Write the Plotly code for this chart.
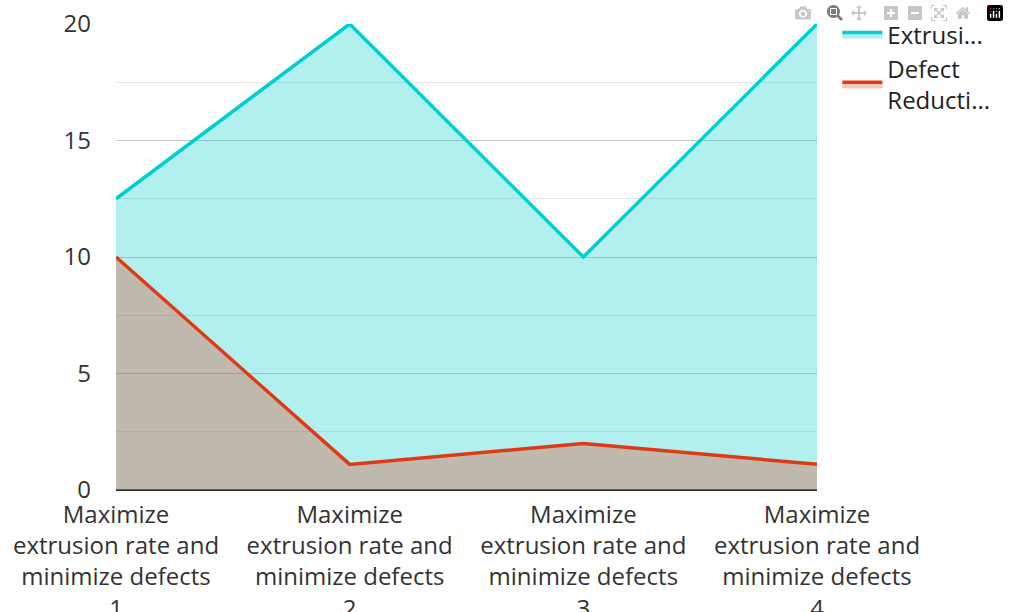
import plotly.graph_objects as go

categories = ["Maximize<br>extrusion rate and<br>minimize defects<br>1",
              "Maximize<br>extrusion rate and<br>minimize defects<br>2",
              "Maximize<br>extrusion rate and<br>minimize defects<br>3",
              "Maximize<br>extrusion rate and<br>minimize defects<br>4"]
x_pos = [0, 1, 2, 3]
extrusion = [12.5, 20, 10, 20]
defect = [10, 1.1, 2, 1.1]
series_names = ["Extrusi...", "Defect<br>Reducti..."]

fig = go.Figure()
fig.add_trace(go.Scatter(x=x_pos, y=extrusion, name=series_names[0], mode="lines",
                         line=dict(color="#00CED1", width=3.5),
                         fill="tozeroy", fillcolor="rgba(0,201,201,0.30)"))
fig.add_trace(go.Scatter(x=x_pos, y=defect, name=series_names[1], mode="lines",
                         line=dict(color="#E03A14", width=3.5),
                         fill="tozeroy", fillcolor="rgba(224,58,20,0.30)"))

font = "Open Sans, Noto Sans, sans-serif"
fs = 24
fig.update_layout(
    width=1009, height=612,
    margin=dict(l=116, r=192, t=24, b=122, autoexpand=False),
    paper_bgcolor="white", plot_bgcolor="white",
    font=dict(family=font, size=fs, color="#333333"),
    showlegend=True,
    legend=dict(x=1.029, y=1.025, xanchor="left", yanchor="top",
                font=dict(size=fs, color="#222222"), tracegroupgap=17,
                itemwidth=40, bgcolor="rgba(0,0,0,0)"),
    xaxis=dict(tickmode="array", tickvals=x_pos, ticktext=categories,
               range=[0, 3], showgrid=False, zeroline=False, automargin=False,
               showline=False, ticks="", ticklabelstandoff=8,
               tickfont=dict(size=fs, color="#333333")),
    yaxis=dict(range=[0, 20], tickvals=[0, 5, 10, 15, 20], showgrid=True,
               gridcolor="#c8c8c8", gridwidth=1, zeroline=True, automargin=False,
               zerolinecolor="#333333", zerolinewidth=2,
               minor=dict(dtick=2.5, showgrid=True, gridcolor="#e6e6e6", gridwidth=1),
               showline=False, ticks="", ticklabelstandoff=24,
               tickfont=dict(size=fs, color="#333333")),
)

fig.write_html("out.html", post_script="document.body.style.margin='0px';")
